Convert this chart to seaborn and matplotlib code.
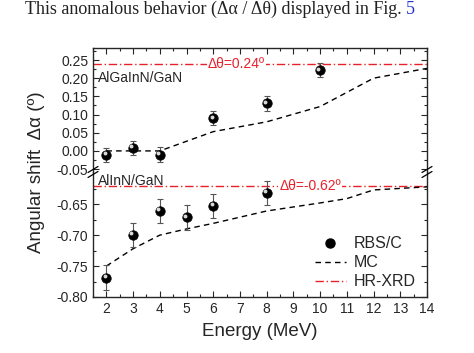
import numpy as np
import pandas as pd
import matplotlib
matplotlib.use('Agg')
import matplotlib.pyplot as plt
import matplotlib.transforms as mtransforms
from matplotlib.lines import Line2D
from matplotlib.ticker import MultipleLocator, FixedLocator
import seaborn as sns

# data
energy_rbs_top = [2, 3, 4, 6, 8, 10]
shift_rbs_top = [-0.011, 0.008, -0.010, 0.090, 0.131, 0.222]
err_rbs_top = [0.02, 0.02, 0.02, 0.02, 0.02, 0.02]

energy_mc_top = [2, 3, 4, 6, 8, 10, 12, 14]
shift_mc_top = [0.0, 0.0, 0.0, 0.053, 0.080, 0.122, 0.200, 0.227]

energy_rbs_bot = [2, 3, 4, 5, 6, 8]
shift_rbs_bot = [-0.769, -0.700, -0.661, -0.671, -0.653, -0.632]
err_rbs_bot = [0.02, 0.02, 0.02, 0.02, 0.02, 0.02]

energy_mc_bot = [2, 3, 4, 5, 6, 8, 10, 11, 12, 14]
shift_mc_bot = [-0.750, -0.722, -0.700, -0.690, -0.681, -0.661, -0.648, -0.641, -0.627, -0.622]

xrd_top = 0.24
xrd_bot = -0.62

sns.set_style('ticks')
plt.rcParams['font.family'] = ['Liberation Sans', 'DejaVu Sans']
plt.rcParams['xtick.direction'] = 'in'
plt.rcParams['ytick.direction'] = 'in'

W, H = 474, 353
fig = plt.figure(figsize=(W / 100, H / 100), dpi=100)

left, right = 93 / W, 427 / W
y_top, y_brk, y_bot = 1 - 48 / H, 1 - 172 / H, 1 - 297 / H
ax_t = fig.add_axes([left, y_brk, right - left, y_top - y_brk])
ax_b = fig.add_axes([left, y_bot, right - left, y_brk - y_bot])

red = '#e8202a'


def draw_panel(ax, ex, ey, err, mx, my, xrd):
    sns.lineplot(x=mx, y=my, ax=ax, color='k', linestyle=(0, (4, 3)), linewidth=1.0)
    ax.axhline(xrd, color=red, linestyle=(0, (6, 2, 1, 2)), linewidth=1.0, zorder=1)
    ax.errorbar(ex, ey, yerr=err, fmt='none', ecolor='#555555', elinewidth=0.8,
                capsize=2.5, capthick=0.8, zorder=3)
    sns.scatterplot(x=ex, y=ey, ax=ax, color='k', s=46, edgecolor='k', zorder=4)
    shine = ax.transData + mtransforms.ScaledTranslation(-1.2 / 72, 1.2 / 72, fig.dpi_scale_trans)
    ax.plot(ex, ey, 'o', color='#d8d8d8', markersize=1.8, transform=shine, zorder=5)
    ax.set_xlim(1.5, 14)
    ax.xaxis.set_major_locator(MultipleLocator(1))
    ax.xaxis.set_minor_locator(MultipleLocator(0.5))
    ax.tick_params(which='both', top=True, right=True, labelsize=10, width=0.8)
    ax.tick_params(which='major', length=4)
    ax.tick_params(which='minor', length=2)
    for s in ax.spines.values():
        s.set_linewidth(1.0)


draw_panel(ax_t, energy_rbs_top, shift_rbs_top, err_rbs_top, energy_mc_top, shift_mc_top, xrd_top)
draw_panel(ax_b, energy_rbs_bot, shift_rbs_bot, err_rbs_bot, energy_mc_bot, shift_mc_bot, xrd_bot)

ax_t.set_ylim(-0.058, 0.283)
ax_t.yaxis.set_major_locator(FixedLocator([-0.05, 0.0, 0.05, 0.10, 0.15, 0.20, 0.25]))
ax_t.yaxis.set_minor_locator(FixedLocator([-0.025, 0.025, 0.075, 0.125, 0.175, 0.225, 0.275]))
ax_t.yaxis.set_major_formatter(plt.FormatStrFormatter('%.2f'))
ax_t.spines['bottom'].set_visible(False)
ax_t.tick_params(which='both', bottom=False, labelbottom=False)

ax_b.set_ylim(-0.80, -0.598)
ax_b.yaxis.set_major_locator(FixedLocator([-0.80, -0.75, -0.70, -0.65]))
ax_b.yaxis.set_minor_locator(FixedLocator([-0.775, -0.725, -0.675, -0.625]))
ax_b.yaxis.set_major_formatter(plt.FormatStrFormatter('%.2f'))
ax_b.spines['top'].set_visible(False)
ax_b.tick_params(which='both', top=False)

for ax in (ax_t, ax_b):
    ax.set_xlabel('')
    ax.set_ylabel('')

# sample labels and XRD values
ax_t.text(1.68, 0.20, 'AlGaInN/GaN', fontsize=10, va='center', ha='left')
ax_b.text(1.68, -0.612, 'AlInN/GaN', fontsize=10, va='center', ha='left')
ax_t.text(6.87, xrd_top, 'Δθ=0.24º', color=red, fontsize=10, ha='center', va='center',
          bbox=dict(facecolor='white', edgecolor='none', pad=1.0), zorder=2)
ax_b.text(9.63, xrd_bot, 'Δθ=-0.62º', color=red, fontsize=10, ha='center', va='center',
          bbox=dict(facecolor='white', edgecolor='none', pad=1.0), zorder=2)

# break marks on both spines
for xb in (left, right):
    for dy in (-2.5, 2.5):
        xs = [xb - 5 / W, xb + 5 / W]
        ys = [y_brk + (dy - 3) / H, y_brk + (dy + 3) / H]
        fig.add_artist(Line2D(xs, ys, color='k', linewidth=0.9, transform=fig.transFigure))

handles = [
    Line2D([], [], marker='o', color='k', linestyle='none', markersize=6.5),
    Line2D([], [], color='k', linestyle=(0, (4, 3)), linewidth=1.0),
    Line2D([], [], color=red, linestyle=(0, (6, 2, 1, 2)), linewidth=1.0),
]
ax_b.legend(handles, ['RBS/C', 'MC', 'HR-XRD'], loc='lower right', frameon=False,
            fontsize=11.5, handlelength=1.9, handletextpad=0.5, labelspacing=0.25,
            borderaxespad=0.0, bbox_to_anchor=(0.985, 0.01))

fig.text(260 / W, 1 - 331 / H, 'Energy (MeV)', fontsize=13.5, ha='center', va='center')
fig.text(37 / W, 1 - 172 / H, 'Angular shift  Δα (º)', fontsize=13.5, rotation=90,
         ha='center', va='center')

# caption line from the page above the figure
serif = ['Liberation Serif', 'DejaVu Serif']
cap = fig.text(25 / W, 1 - 1 / H, 'This anomalous behavior (Δα / Δθ) displayed in Fig. ',
               family=serif, fontsize=13, color='#222222', ha='left', va='top')
fig.canvas.draw()
bb = cap.get_window_extent()
fig.text(bb.x1 / W, 1 - 1 / H, '5', family=serif, fontsize=13, color='#2233cc',
         ha='left', va='top')

fig.savefig('out.png', dpi=100)
